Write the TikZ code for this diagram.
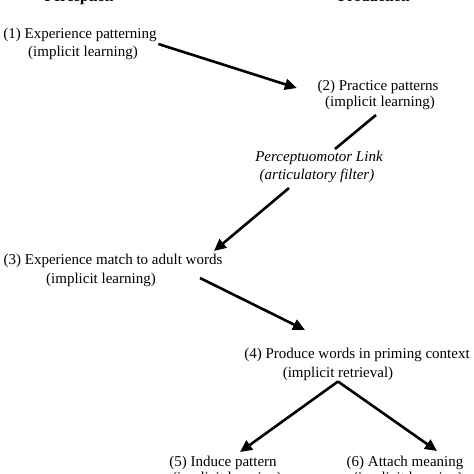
\documentclass[tikz,border=0pt]{standalone}
\usepackage{fontspec}
\setmainfont{Liberation Serif}
\usetikzlibrary{arrows.meta}
\begin{document}
\begin{tikzpicture}[x=1pt,y=-1pt,
  txt/.style={anchor=base,inner sep=0pt,font=\fontsize{15}{18}\selectfont},
  hdr/.style={txt,font=\fontsize{15}{18}\selectfont\bfseries},
  itx/.style={txt,font=\fontsize{15}{18}\selectfont\itshape},
  conn/.style={line width=2.6pt},
  arr/.style={conn,-{Triangle[length=12pt,width=11pt]}}]
\useasboundingbox (0,0) rectangle (474,474);
\clip (0,0) rectangle (474,474);
% headers (cut off at top, as in the reference)
\node[hdr] (hP) at (79,1.5) {Perception};
\node[hdr] (hQ) at (374,1.5) {Production};
% items
\node[txt] (n1a) at (80,38) {(1) Experience patterning};
\node[txt] (n1b) at (83,56) {(implicit learning)};
\node[txt] (n2a) at (378,90) {(2) Practice patterns};
\node[txt] (n2b) at (380,106.5) {(implicit learning)};
\node[itx] (nPLa) at (319,161) {Perceptuomotor Link};
\node[itx] (nPLb) at (317,179) {(articulatory filter)};
\node[txt] (n3a) at (113,264) {(3) Experience match to adult words};
\node[txt] (n3b) at (101,283) {(implicit learning)};
\node[txt] (n4a) at (357,358) {(4) Produce words in priming context};
\node[txt] (n4b) at (338,377) {(implicit retrieval)};
\node[txt] (n5a) at (223,466) {(5) Induce pattern};
\node[txt] (n5b) at (227,482) {(implicit learning)};
\node[txt] (n6a) at (405,466) {(6) Attach meaning};
\node[txt] (n6b) at (408,482) {(implicit learning)};
% connectors
\draw[arr] ([shift={(1.5,6)}]n1a.base east) -- ([shift={(-20.6,-2)}]n2a.base west);
\draw[conn] ([shift={(-4,8.5)}]n2b.base) -- ([shift={(16,-12)}]nPLa.base);
\draw[arr] ([shift={(-28,9)}]nPLb.base) -- ([shift={(101,-13)}]n3a.base);
\draw[arr] ([shift={(99,-5)}]n3b.base) -- ([shift={(-52,-28)}]n4a.base);
\coordinate (apex) at ([shift={(0,4.5)}]n4b.base);
\draw[arr] (apex) -- ([shift={(17,-14)}]n5a.base);
\draw[arr] (apex) -- ([shift={(32,-15)}]n6a.base);
\end{tikzpicture}
\end{document}
